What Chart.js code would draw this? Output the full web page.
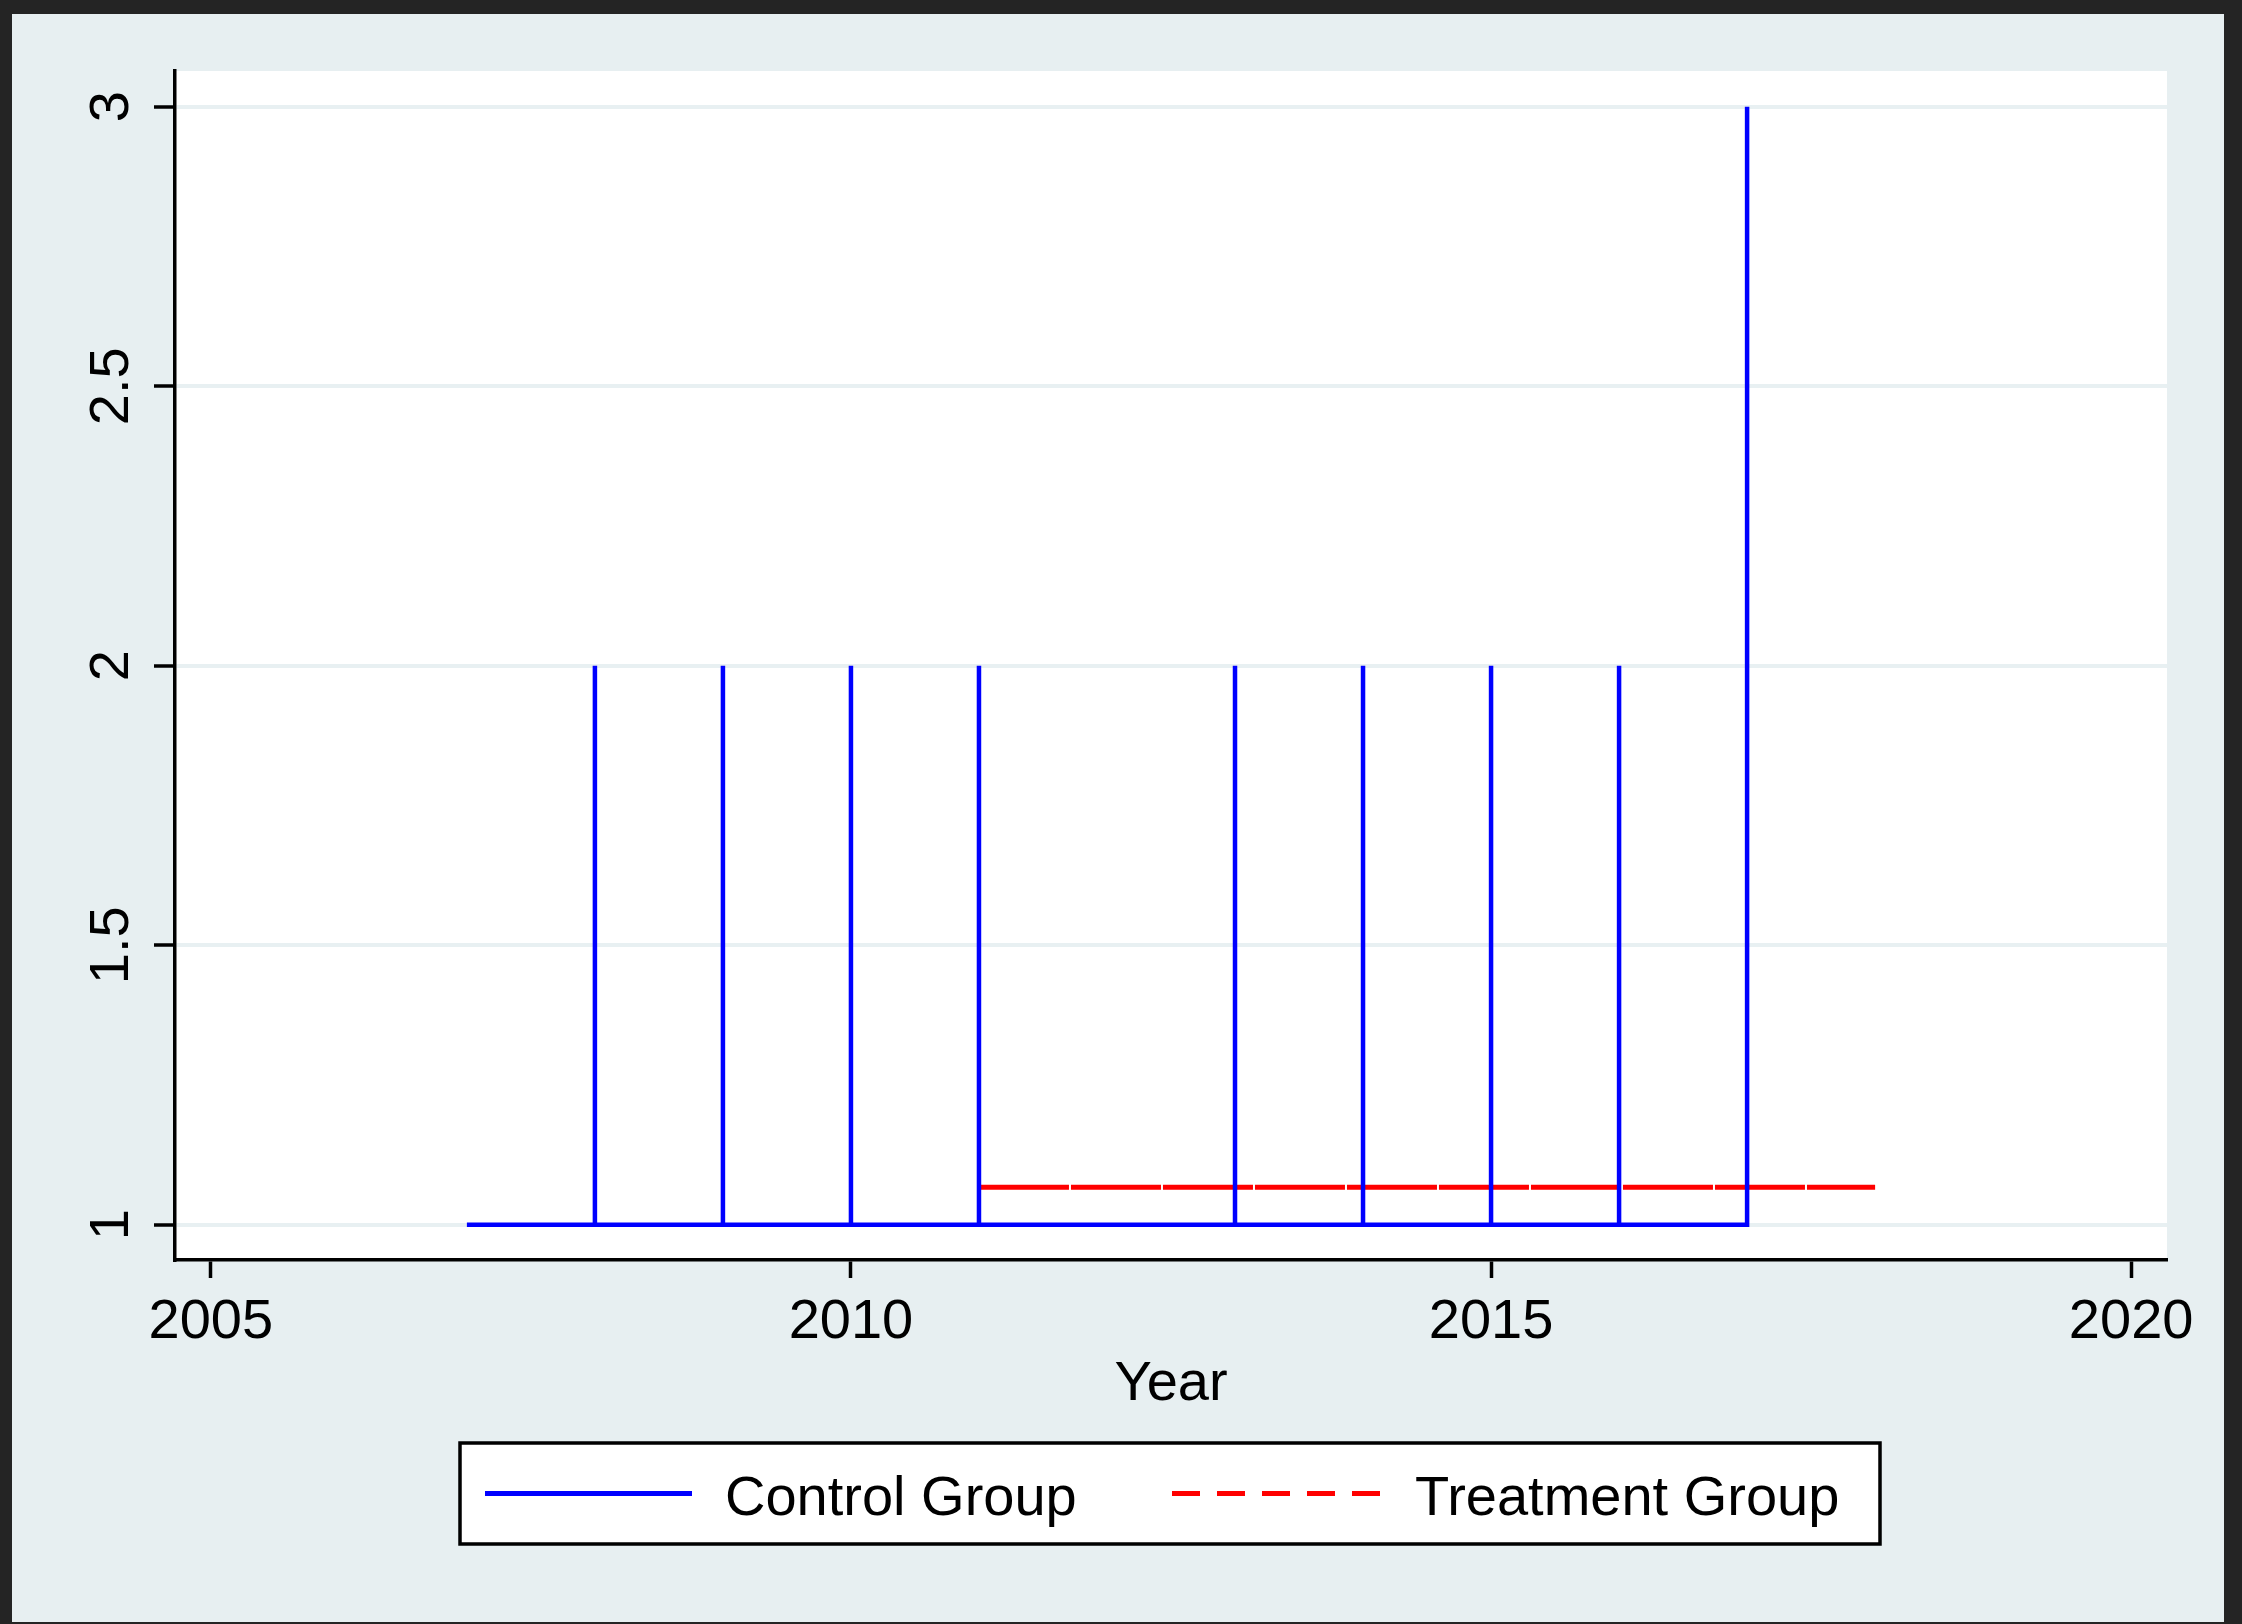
<!DOCTYPE html>
<html>
<head>
<meta charset="utf-8">
<script src="https://cdn.jsdelivr.net/npm/chart.js@4.4.1/dist/chart.umd.min.js"></script>
<style>
  html, body { margin: 0; padding: 0; background: #242424; overflow: hidden; }
  #wrap { position: absolute; left: 12px; top: 14px; width: 2212px; height: 1608px; background: #e7eff1; }
</style>
</head>
<body>
<div id="wrap"><canvas id="canvas" width="2212" height="1608"></canvas></div>
<script>
// data
var controlYears  = [2007, 2008, 2008, 2008, 2009, 2009, 2009, 2010, 2010, 2010, 2011, 2011, 2011, 2012,
                     2013, 2013, 2013, 2014, 2014, 2014, 2015, 2015, 2015, 2016, 2016, 2016, 2017, 2017];
var controlValues = [1, 1, 2, 1, 1, 2, 1, 1, 2, 1, 1, 2, 1, 1,
                     1, 2, 1, 1, 2, 1, 1, 2, 1, 1, 2, 1, 1, 3];
var treatYears  = [2011, 2012, 2013, 2014, 2015, 2016, 2017, 2018];
var treatValues = [1.067, 1.067, 1.067, 1.067, 1.067, 1.067, 1.067, 1.067];
var xTicks = [2005, 2010, 2015, 2020];
var yTicks = [1, 1.5, 2, 2.5, 3];

var FONT = '"Liberation Sans", Arial, Helvetica, sans-serif';

function pairs(xs, ys) {
    return xs.map(function (x, i) { return { x: x, y: ys[i] }; });
}

// white plot region
var plotBg = {
    id: 'plotBg',
    beforeDraw: function (chart) {
        var a = chart.chartArea, ctx = chart.ctx;
        ctx.save();
        ctx.fillStyle = '#ffffff';
        ctx.fillRect(a.left, a.top, a.right - a.left, a.bottom - a.top);
        ctx.restore();
    }
};

// vertical y tick labels (read bottom to top, like Stata)
var yLabels = {
    id: 'yLabels',
    afterDraw: function (chart) {
        var s = chart.scales.y, ctx = chart.ctx;
        ctx.save();
        ctx.fillStyle = '#000';
        ctx.font = '56px ' + FONT;
        ctx.textAlign = 'center';
        ctx.textBaseline = 'middle';
        s.ticks.forEach(function (t) {
            var py = s.getPixelForValue(t.value);
            ctx.save();
            ctx.translate(101, py);
            ctx.rotate(-Math.PI / 2);
            ctx.fillText(String(t.value), 0, 0);
            ctx.restore();
        });
        ctx.restore();
    }
};

// boxed legend under the axis title
var boxLegend = {
    id: 'boxLegend',
    afterDraw: function (chart) {
        var ctx = chart.ctx, ds = chart.data.datasets;
        var bx = 448, by = 1429, bw = 1420, bh = 101, cy = by + bh / 2;
        ctx.save();
        ctx.fillStyle = '#ffffff';
        ctx.fillRect(bx, by, bw, bh);
        ctx.strokeStyle = '#000';
        ctx.lineWidth = 3.5;
        ctx.strokeRect(bx, by, bw, bh);

        var items = [
            { x0: 473, x1: 680, tx: 713, dash: [] },
            { x0: 1160, x1: 1368, tx: 1403, dash: [28, 17] }
        ];
        items.forEach(function (it, i) {
            ctx.beginPath();
            ctx.setLineDash(it.dash);
            ctx.strokeStyle = ds[i].borderColor;
            ctx.lineWidth = 5;
            ctx.moveTo(it.x0, cy);
            ctx.lineTo(it.x1, cy);
            ctx.stroke();
            ctx.setLineDash([]);
            ctx.fillStyle = '#000';
            ctx.font = '56px ' + FONT;
            ctx.textAlign = 'left';
            ctx.textBaseline = 'middle';
            ctx.fillText(ds[i].label, it.tx, cy + 6);
        });
        ctx.restore();
    }
};

var config = {
    type: 'line',
    data: {
        datasets: [{
            label: 'Control Group',
            data: pairs(controlYears, controlValues),
            borderColor: '#0000ff',
            borderWidth: 4.5,
            pointRadius: 0,
            tension: 0,
            fill: false
        }, {
            label: 'Treatment Group',
            data: pairs(treatYears, treatValues),
            borderColor: '#ff0000',
            borderWidth: 5,
            borderDash: [90, 2],
            pointRadius: 0,
            tension: 0,
            fill: false
        }]
    },
    options: {
        responsive: false,
        animation: false,
        devicePixelRatio: 1,
        layout: { padding: { top: 57, right: 57, bottom: 0, left: 0 } },
        plugins: {
            legend: { display: false },
            tooltip: { enabled: false }
        },
        scales: {
            x: {
                type: 'linear',
                min: 2004.72,
                max: 2020.28,
                afterBuildTicks: function (s) { s.ticks = xTicks.map(function (v) { return { value: v }; }); },
                afterFit: function (s) { s.height = 362; },
                border: { display: true, color: '#000', width: 3.5 },
                grid: { drawOnChartArea: false, drawTicks: true, tickLength: 18, tickWidth: 3.5, tickColor: '#000' },
                ticks: {
                    color: '#000',
                    font: { family: FONT, size: 56 },
                    padding: 11,
                    maxRotation: 0,
                    autoSkip: false,
                    callback: function (v) { return String(v); }
                },
                title: {
                    display: true,
                    text: 'Year',
                    color: '#000',
                    font: { family: FONT, size: 56 },
                    padding: { top: 0, bottom: 204 }
                }
            },
            y: {
                type: 'linear',
                min: 0.937,
                max: 3.064,
                afterBuildTicks: function (s) { s.ticks = yTicks.map(function (v) { return { value: v }; }); },
                afterFit: function (s) { s.width = 163; },
                border: { display: true, color: '#000', width: 3.5 },
                grid: { color: '#e8f0f2', lineWidth: 4, drawTicks: true, tickLength: 21, tickWidth: 3.5, tickColor: '#000' },
                ticks: {
                    color: 'rgba(0,0,0,0)',
                    font: { family: FONT, size: 56 },
                    autoSkip: false
                }
            }
        }
    },
    plugins: [plotBg, yLabels, boxLegend]
};

window.onload = function () {
    window.myChart = new Chart(document.getElementById('canvas'), config);
};
</script>
</body>
</html>
